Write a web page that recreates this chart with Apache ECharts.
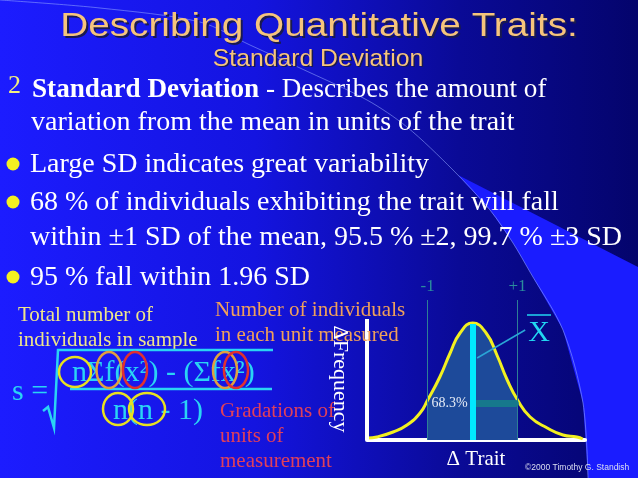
<!DOCTYPE html>
<html><head><meta charset="utf-8">
<script src="https://cdn.jsdelivr.net/npm/echarts@6/dist/echarts.min.js"></script>
<style>html,body{margin:0;padding:0;background:#1010c0;}#c{width:638px;height:478px;}</style>
</head><body><div id="c"></div>
<script>
// ---- data ----
const traitX = [-2.33, -2.13, -1.77, -1.46, -1.17, -1.0, -0.73, -0.5, -0.28, 0, 0.3, 0.54, 0.77, 1.0, 1.28, 1.66, 2.01, 2.32, 2.45];
const freq   = [2, 3, 8, 15, 27, 40, 63, 87, 107, 117, 107, 85, 60, 40, 23, 12, 5, 3, 1];
const sdMarks = [-1, 1];
const sdLabels = ['-1', '+1'];
const meanX = 0;
const meanTop = 116;
const pctLabel = '68.3%';
const pctBar = [0.09, 0.95, 37];
const pointer = [[0.1, 82], [1.17, 110]];
const xMin = -2.35, xMax = 2.5, yMax = 140, yAxisTop = 121;
const titleText = 'Describing Quantitative Traits:';
const subtitleText = 'Standard Deviation';
const bulletRows = [
  {y: 165, text: 'Large SD indicates great variability', bullet: true},
  {y: 203, text: '68 % of individuals exhibiting the trait will fall', bullet: true},
  {y: 238, text: 'within \u00b11 SD of the mean, 95.5 % \u00b12, 99.7 % \u00b13 SD', bullet: false},
  {y: 278, text: '95 % fall within 1.96 SD', bullet: true}
];

const curveData = traitX.map((x, i) => [x, freq[i]]);
const bandData = curveData.filter(p => p[0] >= sdMarks[0] && p[0] <= sdMarks[1]);

const SERIF = 'Liberation Serif';
const SANS = 'Liberation Sans';

function txt(x, y, text, size, color, opts) {
  opts = opts || {};
  return {
    type: 'text', x: x, y: y, z: 50,
    scaleX: opts.scaleX || 1,
    rotation: opts.rotation || 0,
    style: Object.assign({
      text: text, x: 0, y: 0,
      fill: color,
      fontSize: size,
      fontFamily: opts.family || SERIF,
      fontWeight: opts.weight || 'normal',
      textAlign: opts.align || 'left',
      textVerticalAlign: 'middle',
      verticalAlign: 'middle'
    }, opts.style || {})
  };
}
function ell(cx, cy, rx, ry, color) {
  return {type: 'ellipse', z: 60, shape: {cx: cx, cy: cy, rx: rx, ry: ry},
    style: {fill: 'none', stroke: color, lineWidth: 2.5}};
}

const arcPts = [[0,0],[100,8],[200,22],[250,45],[300,68],[367,100],[407,127],[453,170],[490,210],[513,243],[530,272],[563,330],[583,403],[588,478]];
const wedgePts = [[458,175],[490,210],[513,243],[530,272],[563,330],[583,403],[588,478],[638,478],[638,267]];
const CYAN = '#2ad4f4';

const graphics = [
  {type: 'polygon', z: -10, shape: {points: wedgePts}, style: {fill: '#1a1cff'}},
  {type: 'polyline', z: -9, shape: {points: arcPts, smooth: 0.3}, style: {stroke: 'rgba(150,170,255,0.55)', lineWidth: 1, fill: 'none'}},
  // title with shadow
  txt(321, 29, titleText, 34, '#1a1a50', {family: SANS, align: 'center', scaleX: 1.14}),
  txt(319, 27, titleText, 34, '#f6c47c', {family: SANS, align: 'center', scaleX: 1.14}),
  txt(319.5, 60.5, subtitleText, 24, '#1a1a50', {family: SANS, align: 'center', scaleX: 1.03}),
  txt(318, 59, subtitleText, 24, '#f6c47c', {family: SANS, align: 'center', scaleX: 1.03}),
  txt(8, 86, '2', 26, '#f2f080'),
  txt(32, 90, '{b|Standard Deviation}{n| - Describes the amount of}', 28, '#ffffff', {
    scaleX: 0.97,
    style: {rich: {b: {fontWeight: 'bold', fontSize: 28, fontFamily: SERIF, fill: '#ffffff'}, n: {fontSize: 28, fontFamily: SERIF, fill: '#ffffff'}}}
  }),
  txt(31, 123, 'variation from the mean in units of the trait', 28, '#ffffff')
];
bulletRows.forEach(r => {
  if (r.bullet) graphics.push({type: 'circle', z: 50, shape: {cx: 13, cy: r.y - 1, r: 6.5}, style: {fill: '#f4f020'}});
  graphics.push(txt(30, r.y, r.text, 28, '#ffffff'));
});
graphics.push(
  txt(18, 315, 'Total number of', 21, '#efe58a'),
  txt(18, 340, 'individuals in sample', 21, '#efe58a'),
  txt(215, 310, 'Number of individuals', 21, '#f0a05a'),
  txt(215, 335, 'in each unit measured', 21, '#f0a05a'),
  txt(220, 411, 'Gradations of', 21, '#e0405a'),
  txt(220, 436, 'units of', 21, '#e0405a'),
  txt(220, 461, 'measurement', 21, '#e0405a'),
  txt(12, 392, 's =', 30, CYAN),
  txt(72, 373, 'n\u03a3f(x\u00b2) - (\u03a3fx\u00b2)', 30, CYAN),
  txt(113, 411, 'n(n - 1)', 30, CYAN),
  {type: 'polyline', z: 55, shape: {points: [[43,411],[48,407],[54,428],[58,350],[273,350]]}, style: {stroke: CYAN, lineWidth: 2.5, fill: 'none'}},
  {type: 'line', z: 55, shape: {x1: 70, y1: 389, x2: 272, y2: 389}, style: {stroke: CYAN, lineWidth: 2.5}},
  ell(75, 372, 16, 15, '#e8e020'),
  ell(109, 370, 12.5, 18, '#e0a040'),
  ell(135, 370, 12, 18, '#e03030'),
  ell(225, 370, 12, 18, '#e0a040'),
  ell(236, 370, 12, 18, '#e03030'),
  ell(118, 409, 15, 16, '#e8e020'),
  ell(147, 409, 18, 16, '#e8e020'),
  txt(340, 379, '\u0394Frequency', 22, '#ffffff', {align: 'center', rotation: -Math.PI / 2}),
  txt(539, 333, 'X', 30, '#22d6f2', {align: 'center'}),
  {type: 'line', z: 55, shape: {x1: 527, y1: 315, x2: 551, y2: 315}, style: {stroke: '#22d6f2', lineWidth: 1.5}},
  txt(525, 468, '\u00a92000 Timothy G. Standish', 8.5, '#dcdff2', {family: SANS})
);

const chart = echarts.init(document.getElementById('c'), null, {renderer: 'canvas'});
chart.setOption({
  animation: false,
  backgroundColor: {type: 'linear', x: 0, y: 0, x2: 1, y2: 0, colorStops: [
    {offset: 0, color: '#1c1cff'}, {offset: 0.4, color: '#1414e0'},
    {offset: 0.72, color: '#0a0a96'}, {offset: 1, color: '#04046c'}]},
  graphic: {elements: graphics},
  grid: {left: 367, top: 300, width: 218, height: 140},
  xAxis: {
    type: 'value', min: xMin, max: xMax,
    axisLine: {show: true, lineStyle: {color: '#ffffff', width: 4}},
    axisTick: {show: false}, axisLabel: {show: false}, splitLine: {show: false},
    name: '\u0394 Trait', nameLocation: 'middle', nameGap: 9,
    nameTextStyle: {color: '#ffffff', fontFamily: SERIF, fontSize: 21}
  },
  yAxis: {
    type: 'value', min: 0, max: yMax,
    axisLine: {show: false}, axisTick: {show: false}, axisLabel: {show: false}, splitLine: {show: false}
  },
  series: [
    {
      type: 'line', name: 'band', data: bandData, smooth: true, symbol: 'none', z: 2,
      lineStyle: {width: 0}, areaStyle: {color: '#1d4a9a', opacity: 1},
      markLine: {
        silent: true, symbol: ['none', 'none'],
        data: [
          ...sdMarks.map((v, i) => ({xAxis: v,
            lineStyle: {color: '#2e7f95', width: 1, type: 'solid'},
            label: {show: true, position: 'end', formatter: sdLabels[i], color: '#2b8c9c', fontFamily: SERIF, fontSize: 17, distance: 5}})),
          [{coord: [xMin, 0], lineStyle: {color: '#ffffff', width: 4, type: 'solid'}, label: {show: false}}, {coord: [xMin, yAxisTop]}],
          [{coord: [pctBar[0], pctBar[2]], lineStyle: {color: '#16788c', width: 7, type: 'solid', cap: 'round'},
            label: {show: true, position: 'start', formatter: pctLabel, color: '#e6ecf6', fontFamily: SERIF, fontSize: 14, distance: 9}},
           {coord: [pctBar[1], pctBar[2]]}]
        ]
      }
    },
    {
      type: 'line', name: 'curve', data: curveData, smooth: true, symbol: 'none', z: 3,
      lineStyle: {color: '#f2f020', width: 3},
      markLine: {
        silent: true, symbol: ['none', 'none'],
        data: [
          [{coord: [meanX, 0], lineStyle: {color: '#00e8ff', width: 6, type: 'solid'}, label: {show: false}}, {coord: [meanX, meanTop]}],
          [{coord: pointer[0], lineStyle: {color: '#2aa6d6', width: 1.5, type: 'solid'}, label: {show: false}}, {coord: pointer[1]}]
        ]
      }
    }
  ]
});
</script>
</body></html>
